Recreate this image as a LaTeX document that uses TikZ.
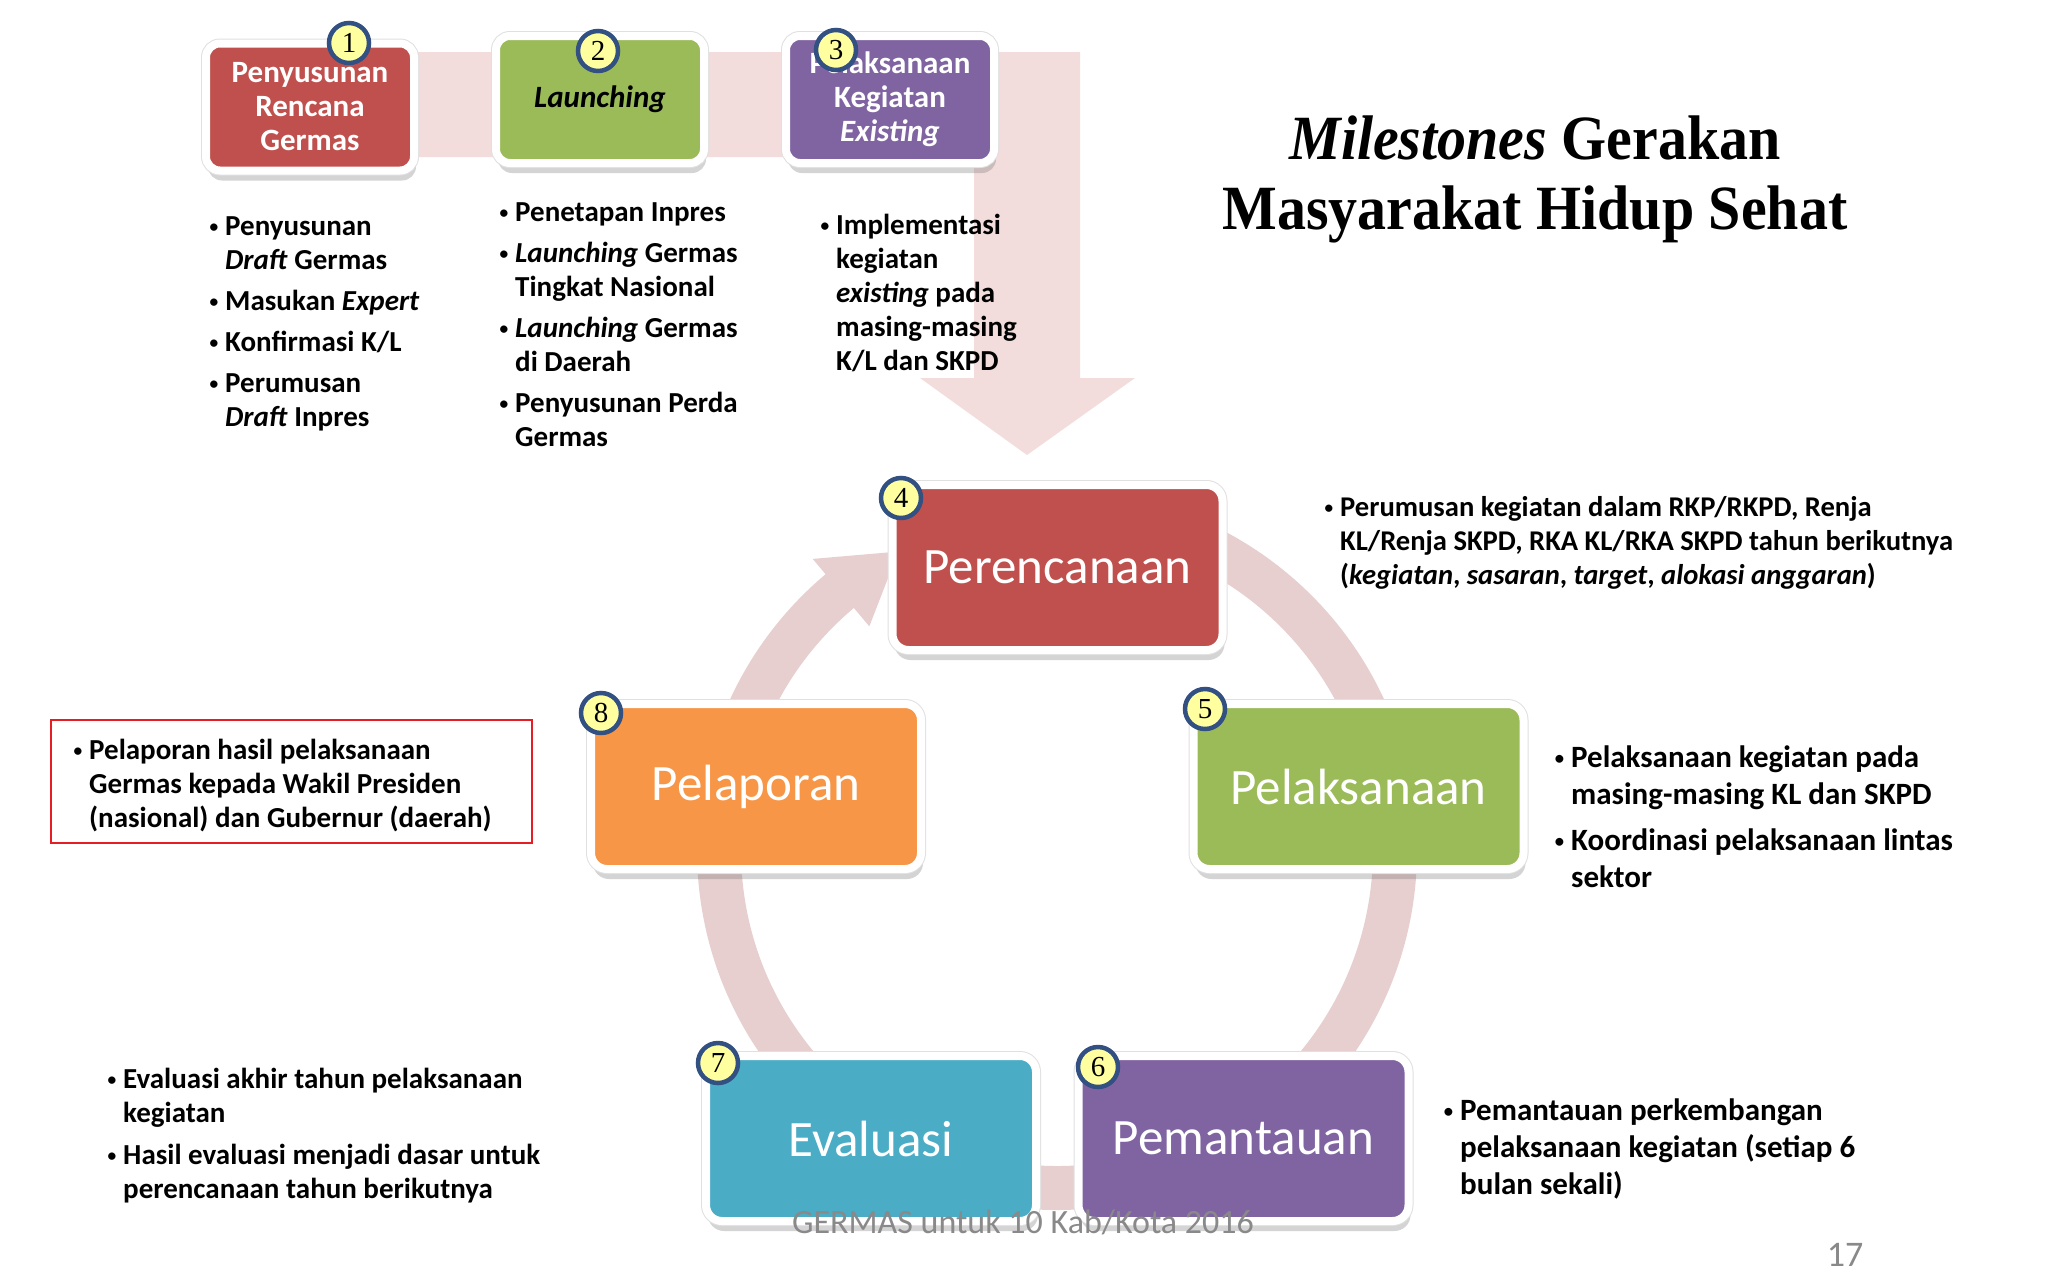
\documentclass[tikz,border=0pt]{standalone}
\usepackage{fontspec}
\usepackage{graphicx}
\setmainfont{Carlito}
\newfontfamily\serifnum{Liberation Serif}
\newfontfamily\titlefont[FakeStretch=0.92]{Liberation Serif}
\usetikzlibrary{shadows}
\definecolor{cred}{RGB}{192,80,77}
\definecolor{cgreen}{RGB}{155,187,89}
\definecolor{cpurple}{RGB}{128,100,162}
\definecolor{cblue}{RGB}{75,172,198}
\definecolor{corange}{RGB}{247,150,70}
\definecolor{ringpink}{RGB}{231,206,207}
\definecolor{bandpink}{RGB}{242,221,220}
\definecolor{badgeblue}{RGB}{50,80,130}
\definecolor{badgefill}{RGB}{255,255,160}
\definecolor{footgray}{RGB}{137,137,137}
\definecolor{redframe}{RGB}{228,30,36}
\newcommand{\bu}{\makebox[0pt][r]{\raisebox{3pt}{\scalebox{0.6}{\textbullet}}\hspace{7pt}}}
\tikzset{
  framebox/.style={rounded corners=16pt, inner sep=0pt, line width=8pt, draw=white,
    drop shadow={shadow xshift=2pt, shadow yshift=-10pt, opacity=0.28, fill=black!60},
    preaction={draw=black!12, line width=10pt}},
  cyc/.style={framebox, minimum width=330pt, minimum height=165pt, text=white,
    font=\fontsize{51}{60}\selectfont},
  topbox/.style={framebox, rounded corners=14pt, minimum width=208pt, minimum height=127pt,
    text=white, font=\fontsize{31}{34}\selectfont\bfseries, align=center},
  badge/.style={circle, fill=badgefill, draw=badgeblue, line width=4.5pt, minimum size=40pt,
    inner sep=0pt, font=\serifnum\fontsize{29}{29}\selectfont},
  btext/.style={inner sep=0pt, anchor=base west, font=\fontsize{29}{34}\selectfont\bfseries, text=black},
  btextl/.style={inner sep=0pt, anchor=base west, font=\fontsize{31}{37}\selectfont\bfseries, text=black}
}
\begin{document}
\begin{tikzpicture}[x=1pt, y=-1pt]
\useasboundingbox (0,0) rectangle (2048,1280);
\fill[white] (0,0) rectangle (2048,1280);

% top L-shaped arrow band
\fill[bandpink] (300,52) -- (1080,52) -- (1080,378) -- (1135,378) -- (1027,455)
  -- (920,378) -- (974,378) -- (974,157) -- (300,157) -- cycle;

% circular arrow ring
\begin{scope}[shift={(1057,850)}, x=1pt, y=1pt]
\fill[ringpink] (95:360) arc[start angle=95, end angle=-230, radius=360]
  -- (-230:380) -- (-242:338) -- (-230:292) -- (-230:316)
  arc[start angle=-230, end angle=95, radius=316] -- cycle;
\end{scope}

% top boxes
\node[topbox, fill=cred] (b1) at (310,107) {Penyusunan\\Rencana\\Germas};
\node[topbox, fill=cgreen, text=black] (b2) at (600,99.5) {\textit{Launching}};
\node[topbox, fill=cpurple] (b3) at (890,99.5) {Pelaksanaan\\Kegiatan\\\textit{Existing}};

% cycle boxes
\node[cyc, fill=cred] (c4) at (1057.5,567.5) {Perencanaan};
\node[cyc, fill=cgreen] (c5) at (1358.5,786.5) {Pelaksanaan};
\node[cyc, fill=cpurple] (c6) at (1243.5,1138.5) {Pemantauan};
\node[cyc, fill=cblue] (c7) at (871,1138.5) {Evaluasi};
\node[cyc, fill=corange] (c8) at (756,786.5) {Pelaporan};

% badges
\node[badge] (n1) at (349,43) {1};
\node[badge] (n2) at (598,51) {2};
\node[badge] (n3) at (836,50) {3};
\node[badge] (n4) at (901,498) {4};
\node[badge] (n5) at (1205,709) {5};
\node[badge] (n6) at (1098,1067) {6};
\node[badge] (n7) at (718,1063) {7};
\node[badge] (n8) at (601,713) {8};

% title
\node[inner sep=0pt, anchor=base, font=\titlefont\bfseries\fontsize{63}{70}\selectfont] (title) at (1535,159)
  {\begin{tabular}[t]{@{}c@{}}\textit{Milestones} Gerakan\\Masyarakat Hidup Sehat\end{tabular}};

% bullet texts
\node[btext] (t1) at (225,235) {\begin{tabular}[t]{@{}l@{}}
\bu Penyusunan\\ \textit{Draft} Germas\\[7pt]
\bu Masukan \textit{Expert}\\[7pt]
\bu Konfirmasi K/L\\[7pt]
\bu Perumusan\\ \textit{Draft} Inpres
\end{tabular}};
\node[btext] (t2) at (515,221) {\begin{tabular}[t]{@{}l@{}}
\bu Penetapan Inpres\\[7pt]
\bu \textit{Launching} Germas\\ Tingkat Nasional\\[7pt]
\bu \textit{Launching} Germas\\ di Daerah\\[7pt]
\bu Penyusunan Perda\\ Germas
\end{tabular}};
\node[btext] (t3) at (836,234) {\begin{tabular}[t]{@{}l@{}}
\bu Implementasi\\ kegiatan\\ \textit{existing} pada\\ masing-masing\\ K/L dan SKPD
\end{tabular}};
\node[btext, font=\fontsize{28.6}{34}\selectfont\bfseries] (t4) at (1340,516) {\begin{tabular}[t]{@{}l@{}}
\bu Perumusan kegiatan dalam RKP/RKPD, Renja\\
KL/Renja SKPD, RKA KL/RKA SKPD tahun berikutnya\\
(\textit{kegiatan}, \textit{sasaran}, \textit{target}, \textit{alokasi anggaran})
\end{tabular}};
\node[btextl] (t5) at (1571,767) {\begin{tabular}[t]{@{}l@{}}
\bu Pelaksanaan kegiatan pada\\ masing-masing KL dan SKPD\\[9pt]
\bu Koordinasi pelaksanaan lintas\\ sektor
\end{tabular}};
\node[btextl] (t6) at (1460,1120) {\begin{tabular}[t]{@{}l@{}}
\bu Pemantauan perkembangan\\ pelaksanaan kegiatan (setiap 6\\ bulan sekali)
\end{tabular}};
\node[btext] (t7) at (123,1088) {\begin{tabular}[t]{@{}l@{}}
\bu Evaluasi akhir tahun pelaksanaan\\ kegiatan\\[8pt]
\bu Hasil evaluasi menjadi dasar untuk\\ perencanaan tahun berikutnya
\end{tabular}};

% red framed note
\node[draw=redframe, line width=2.5pt, minimum width=481pt, minimum height=123pt, inner sep=0pt] (rframe) at (291.5,781.5) {};
\node[btext] (t8) at (89,759) {\begin{tabular}[t]{@{}l@{}}
\bu Pelaporan hasil pelaksanaan\\ Germas kepada Wakil Presiden\\ (nasional) dan Gubernur (daerah)
\end{tabular}};

% footer
\node[inner sep=0pt, anchor=base, text=footgray, font=\fontsize{34}{40}\selectfont] (foot) at (1023,1233) {GERMAS untuk 10 Kab/Kota 2016};
\node[inner sep=0pt, anchor=base, text=footgray, font=\fontsize{36}{40}\selectfont] (page) at (1845,1266) {17};
\end{tikzpicture}
\end{document}
